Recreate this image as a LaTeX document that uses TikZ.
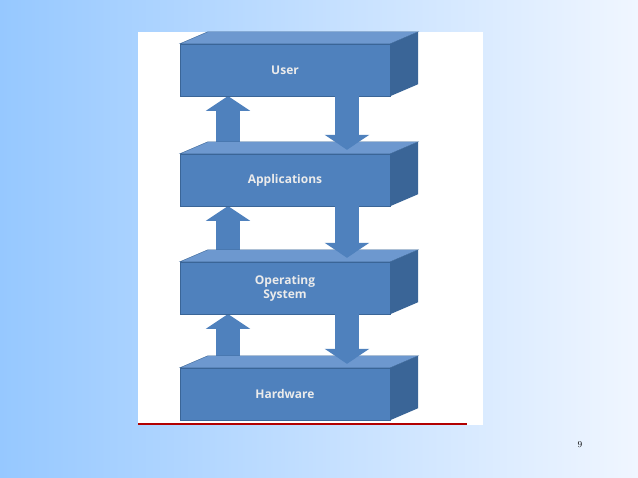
\documentclass[tikz,border=0pt]{standalone}
\usepackage{fontspec}
\setsansfont{Open Sans}
\usetikzlibrary{positioning,calc,arrows.meta}
\definecolor{boxfront}{HTML}{4F81BD}
\definecolor{boxside}{HTML}{3A6597}
\definecolor{boxtop}{HTML}{6D98CF}
\tikzset{layer/.style={fill=boxfront,draw=boxside,minimum width=210pt,minimum height=52pt,
           text=white!92!black,font=\sffamily\bfseries\large,align=center,inner sep=0pt},
         fat/.style={line width=24pt,draw=boxfront,-{Triangle[length=15pt,width=44pt]}}
}
\newcommand{\cube}[1]{%
  \fill[boxtop,draw=boxside] (#1.north west)--++(28pt,12pt)--($(#1.north east)+(28pt,12pt)$)--(#1.north east)--cycle;
  \fill[boxside] (#1.north east)--++(28pt,12pt)--($(#1.south east)+(28pt,12pt)$)--(#1.south east)--cycle;}
\begin{document}
\begin{tikzpicture}[x=1pt,y=1pt]
\shade[left color={rgb,255:red,150;green,200;blue,255},right color={rgb,255:red,240;green,246;blue,255}] (0,0) rectangle (638,478);
\useasboundingbox (0,0) rectangle (638,478);
\fill[white] (138,53) rectangle (483,446);
\draw[red!70!black,line width=2pt] (138,54) -- (467,54);
\node[font=\small] (page) at (580,33) {9};
% layers, top to bottom
\coordinate (u) at (285,408);
\coordinate (a) at (285,298);
\coordinate (o) at (285,190);
\coordinate (h) at (285,84);
% up arrows behind
\draw[fat] ($(a)+(-57,26)$) -- ($(u)+(-57,-26)$);
\draw[fat] ($(o)+(-57,26)$) -- ($(a)+(-57,-26)$);
\draw[fat] ($(h)+(-57,26)$) -- ($(o)+(-57,-26)$);
\node[layer] (user) at (u) {User};
\node[layer] (apps) at (a) {Applications};
\node[layer] (os) at (o) {Operating\\System};
\node[layer] (hw) at (h) {Hardware};
\cube{user}\cube{apps}\cube{os}\cube{hw}
% down arrows
\draw[fat] ($(user.south)+(62,0)$) -- ($(apps.north)+(62,4)$);
\draw[fat] ($(apps.south)+(62,0)$) -- ($(os.north)+(62,4)$);
\draw[fat] ($(os.south)+(62,0)$) -- ($(hw.north)+(62,4)$);
\end{tikzpicture}
\end{document}
